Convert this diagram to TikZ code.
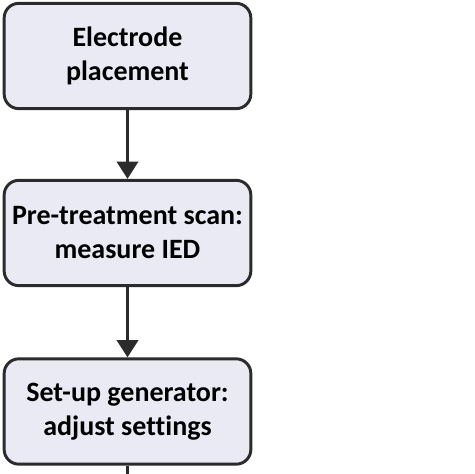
\documentclass[tikz,border=0pt]{standalone}
\usepackage{fontspec}
\setmainfont{Carlito}[Ligatures=NoCommon]
\usetikzlibrary{arrows.meta}
\definecolor{boxfill}{HTML}{E9EAF3}
\definecolor{boxline}{HTML}{2B2B2B}
\tikzset{every picture/.style={line width=2.2pt}}
\tikzset{
	stepbox/.style={draw=boxline, fill=boxfill, rounded corners=11pt, minimum width=185pt, minimum height=79pt, align=center, font=\fontsize{21}{25.5}\selectfont\bfseries, text=black},
	flow/.style={draw=boxline, -{Triangle[width=16pt,length=13pt]}}}
\begin{document}
\begin{tikzpicture}[x=0.75pt,y=0.75pt,yscale=-1,xscale=1]
	\useasboundingbox (0,0) rectangle (474,474);

	% Boxes
	\node[stepbox] (place) at (127.5,56) {Electrode\\placement};
	\node[stepbox] (scan) at (127.5,233) {Pre-treatment scan:\\measure IED};
	\node[stepbox] (setup) at (127.5,411.5) {Set-up generator:\\adjust settings};
	\coordinate (next) at (127.5,480);

	% Arrows
	\draw[flow] (place) -- (scan);
	\draw[flow] (scan) -- (setup);
	\draw[boxline] (setup) -- (next);

\end{tikzpicture}
\end{document}
